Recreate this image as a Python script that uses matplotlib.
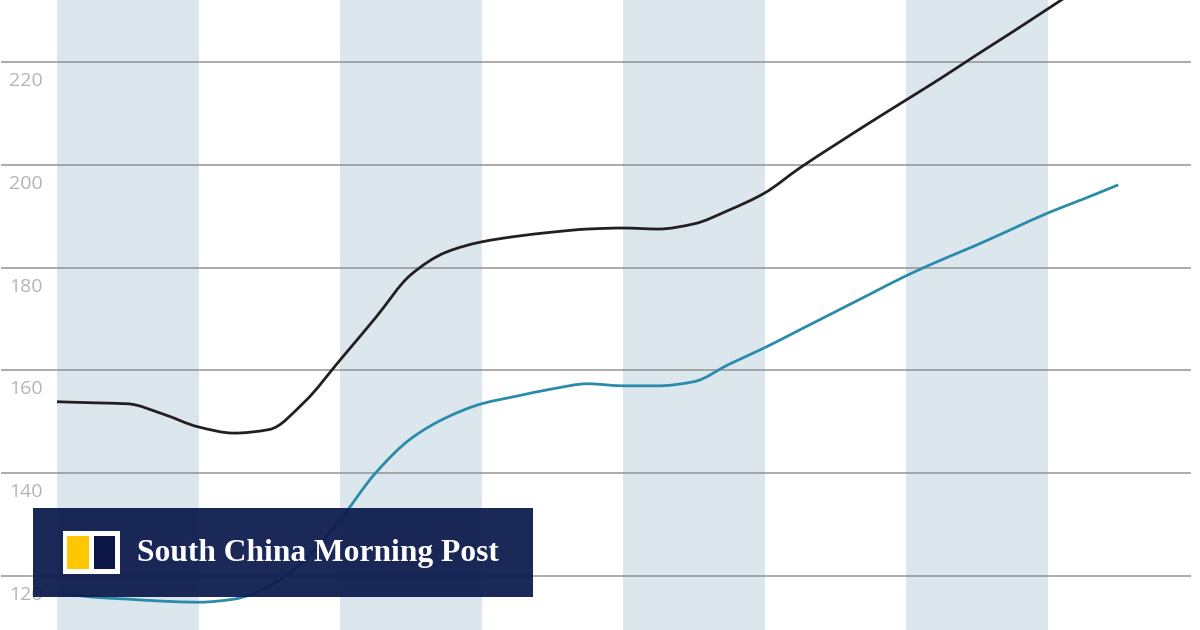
import matplotlib
matplotlib.use("Agg")
import matplotlib.pyplot as plt
import matplotlib.transforms as mtransforms
from matplotlib.patches import Rectangle, PathPatch
from matplotlib.path import Path
import numpy as np

# quarterly readings, t = years from the first band's left edge
quarters = np.arange(31) / 4.0
dark_series = [153.9, 153.7, 153.5, 151.5, 149.0, 147.8, 148.5, 153.9, 162.0, 170.2,
               178.6, 183.0, 185.0, 186.1, 186.9, 187.5, 187.7, 187.5, 188.5, 191.2,
               194.5, 199.4, 203.9, 208.3, 212.6, 216.9, 221.4, 225.8, 230.3, 234.8,
               239.3]
teal_series = [116.7, 115.9, 115.5, 115.1, 114.9, 115.5, 118.0, 123.1, 130.9, 140.0,
               146.7, 150.8, 153.5, 155.0, 156.4, 157.4, 157.0, 157.0, 157.8, 161.2,
               164.4, 167.9, 171.4, 174.9, 178.4, 181.5, 184.4, 187.5, 190.6, 193.3,
               196.1]
y_ticks = [120, 140, 160, 180, 200, 220]
band_years = [0, 2, 4, 6]

W, H = 1200, 630


# monotone cubic bezier through the points (like d3 curveMonotoneX)
def smooth_path(x, y):
    x = np.asarray(x, float)
    y = np.asarray(y, float)
    dx = np.diff(x)
    s = np.diff(y) / dx
    m = np.zeros_like(y)
    m[0], m[-1] = s[0], s[-1]
    for i in range(1, len(y) - 1):
        if s[i - 1] * s[i] <= 0:
            m[i] = 0
        else:
            m[i] = 2 / (1 / s[i - 1] + 1 / s[i])
    verts = [(x[0], y[0])]
    codes = [Path.MOVETO]
    for i in range(len(x) - 1):
        h = dx[i] / 3
        verts += [(x[i] + h, y[i] + m[i] * h),
                  (x[i + 1] - h, y[i + 1] - m[i + 1] * h),
                  (x[i + 1], y[i + 1])]
        codes += [Path.CURVE4] * 3
    return Path(verts, codes)


fig = plt.figure(figsize=(W / 100, H / 100), dpi=100)
ax = fig.add_axes([0, 0, 1, 1])
ax.set_axis_off()

px_per_year = 141.5
x0 = 57
ax.set_xlim(-x0 / px_per_year, (W - x0) / px_per_year)
ax.set_ylim(220 - (H - 62) / 5.14, 220 + 62 / 5.14)

for b in band_years:
    ax.axvspan(b, b + 1, color="#dce6ed", zorder=0, lw=0)

for v in y_ticks:
    ax.axhline(v, xmin=2 / W, xmax=1190 / W, color="#8f8f8f", lw=1.4, alpha=0.75, zorder=1)

lab_tr = mtransforms.blended_transform_factory(ax.transAxes, ax.transData)
lab_tr = lab_tr + mtransforms.ScaledTranslation(0, -10 / 100, fig.dpi_scale_trans)
for v in y_ticks:
    ax.text(9 / W, v, str(v), transform=lab_tr, ha="left", va="top",
            fontsize=14, color="#b4b4b4", family="Open Sans", zorder=2)

for series, col in [(dark_series, "#231f20"), (teal_series, "#2b8bab")]:
    ax.add_patch(PathPatch(smooth_path(quarters, series), fill=False, edgecolor=col,
                           lw=2.0, zorder=3, capstyle="butt", joinstyle="round"))

# logo overlay, pixel boxes from top-left
def box(x1, y1, x2, y2, **kw):
    r = Rectangle((x1 / W, 1 - y2 / H), (x2 - x1) / W, (y2 - y1) / H,
                  transform=fig.transFigure, **kw)
    fig.patches.append(r)

box(33, 508, 533, 597, color="#0e1d4f", alpha=0.95, lw=0, zorder=10)
box(63, 531, 120, 574, color="white", lw=0, zorder=11)
box(67, 536, 89, 569, color="#ffc700", lw=0, zorder=12)
box(94, 536, 115, 569, color="#0b1647", lw=0, zorder=12)
fig.text(137 / W, 1 - 553 / H, "South China Morning Post", color="white",
         fontsize=22.7, fontweight="bold", family="Liberation Serif",
         ha="left", va="center", zorder=13)

fig.savefig("out.png", dpi=100)
